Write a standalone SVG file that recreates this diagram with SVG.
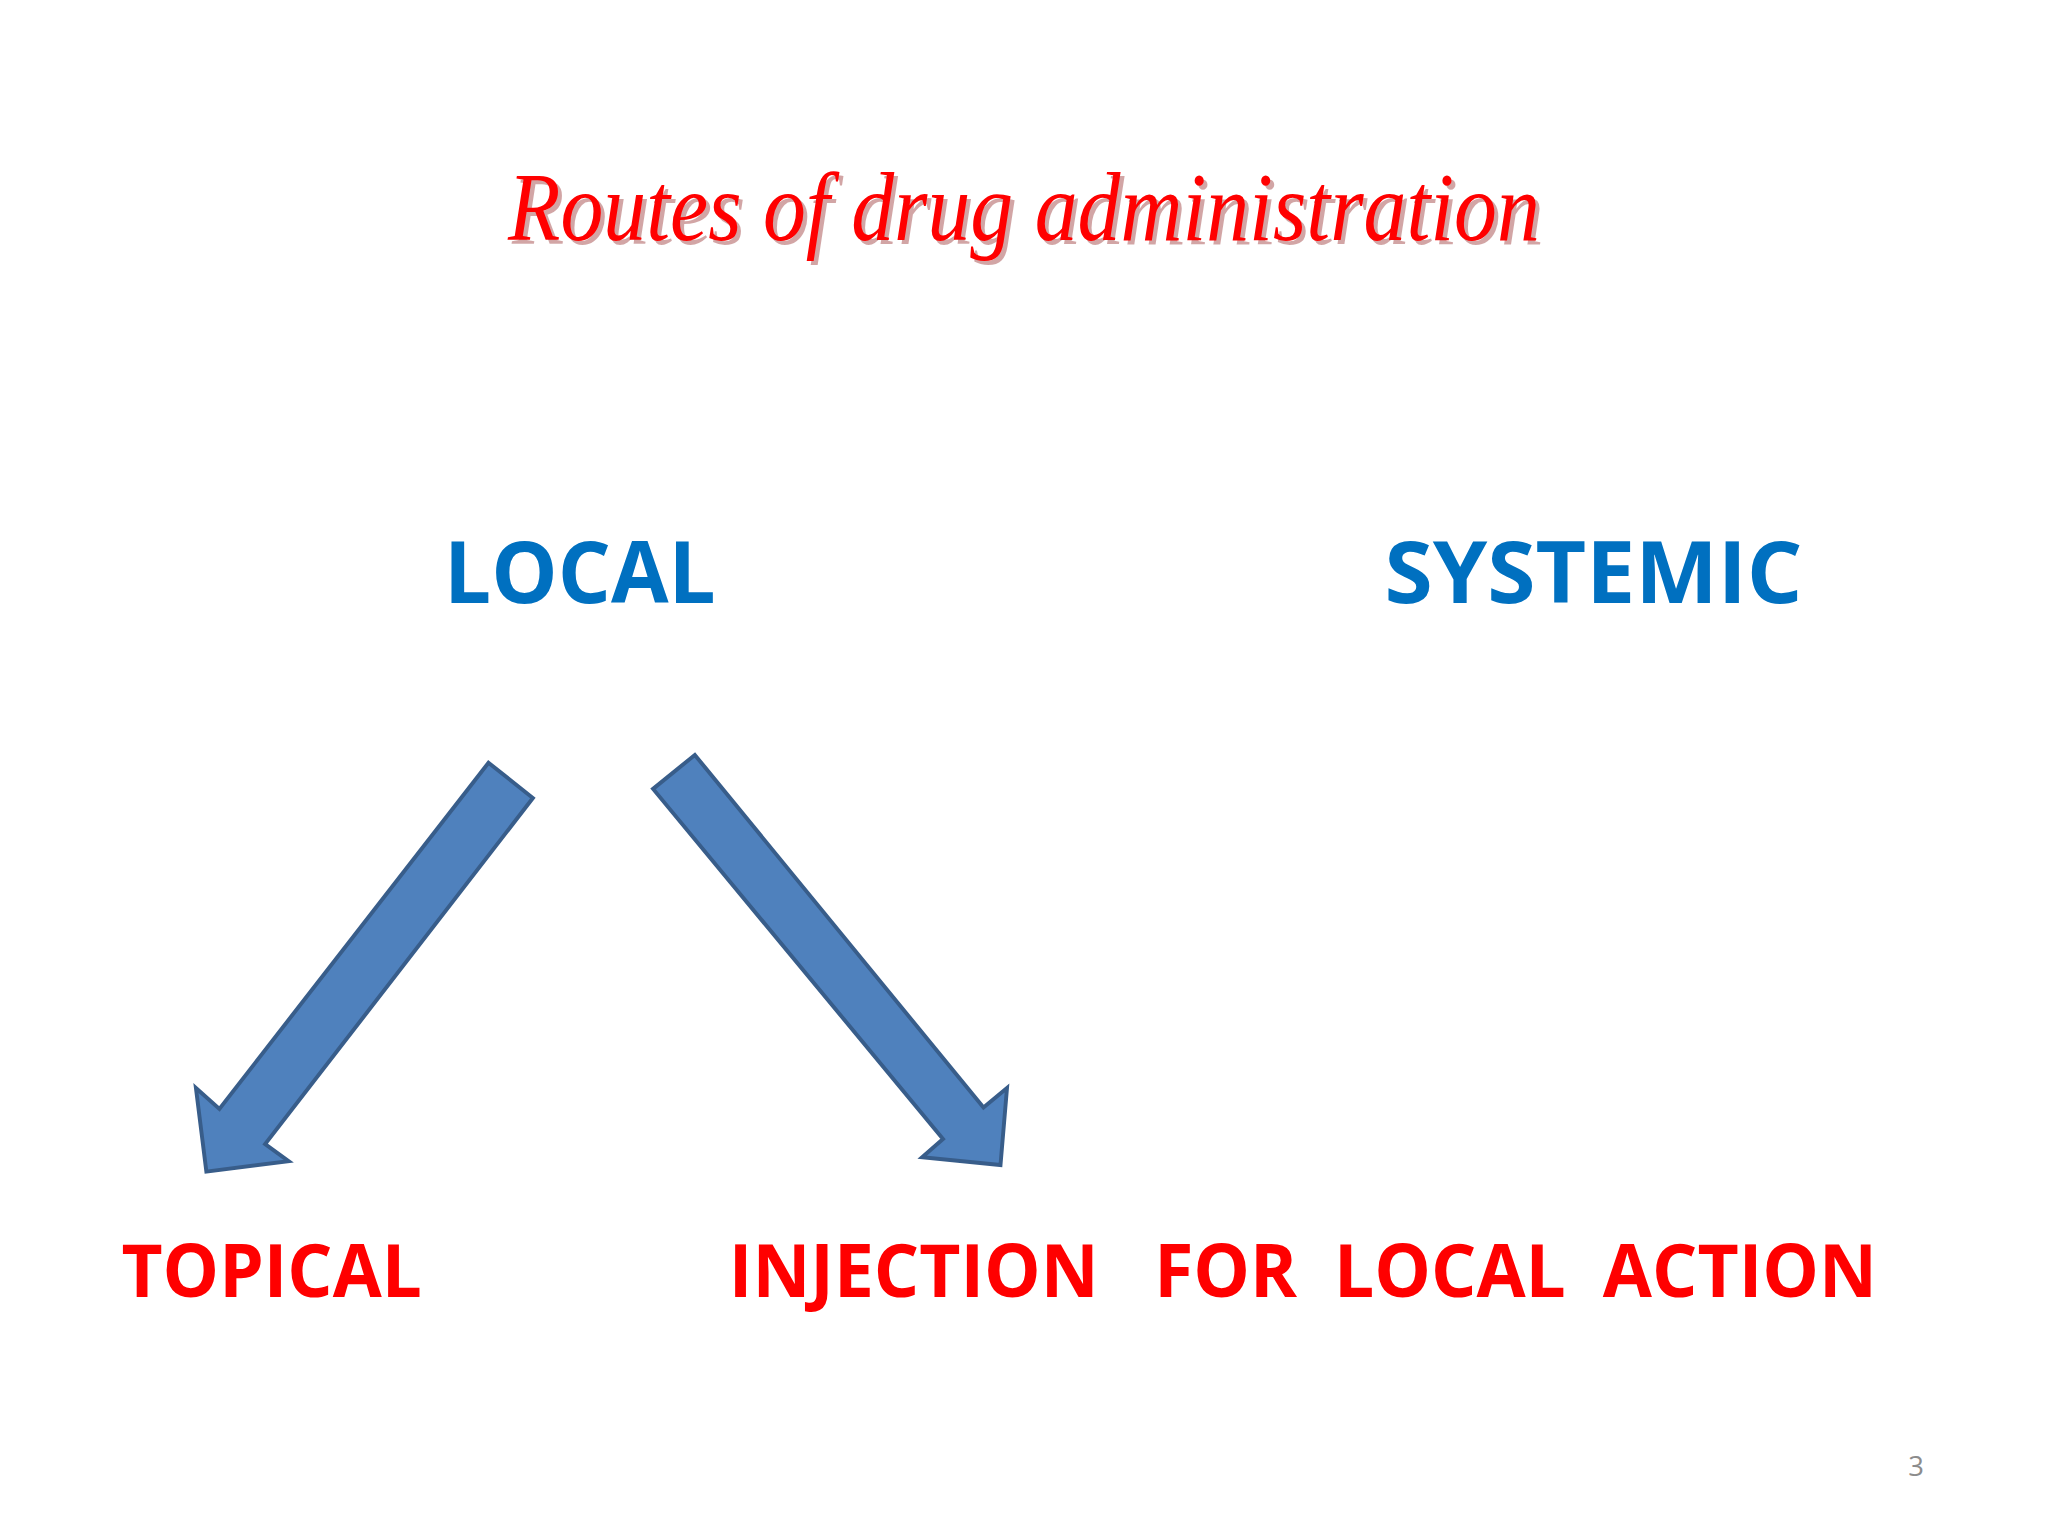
<svg xmlns="http://www.w3.org/2000/svg" width="2048" height="1536" viewBox="0 0 2048 1536">
<style>
.t{font-family:"Open Sans","Liberation Sans",sans-serif;font-weight:bold}
.blue{fill:#0070C0}
.red{fill:#FF0000}
.arrow{fill:#4F81BD;stroke:#385D8A;stroke-width:3}
</style>
<rect width="2048" height="1536" fill="#ffffff"/>
<g transform="scale(1.3061)">
<g id="title"><text x="787" y="187" text-anchor="middle" font-family="'Liberation Serif',serif" font-style="italic" font-size="74" fill="#7f0000" opacity="0.35" textLength="790" lengthAdjust="spacingAndGlyphs">Routes of drug administration</text>
<text x="784" y="184" text-anchor="middle" font-family="'Liberation Serif',serif" font-style="italic" font-size="74" class="red" textLength="790" lengthAdjust="spacingAndGlyphs">Routes of drug administration</text></g>
<g id="local"><text class="t blue" x="340" y="462" font-size="66" textLength="208" lengthAdjust="spacingAndGlyphs">LOCAL</text></g>
<g id="systemic"><text class="t blue" x="1060" y="462" font-size="66" textLength="320" lengthAdjust="spacingAndGlyphs">SYSTEMIC</text></g>
<g id="topical"><text class="t red" x="93" y="993" font-size="56" textLength="230" lengthAdjust="spacingAndGlyphs">TOPICAL</text></g>
<g id="injection"><text class="t red" x="558" y="993" font-size="56" textLength="879" lengthAdjust="spacingAndGlyphs" xml:space="preserve">INJECTION   FOR  LOCAL  ACTION</text></g>
<g id="connectors">
<polygon class="arrow" points="374,584 408,611 203,876 221,889 158,897 150,833 168,849"/>
<polygon class="arrow" points="532,578 500,604 722,872 706,886 766,892 771,833 753,848"/>
</g>
<text x="1467" y="1130" text-anchor="middle" font-family="'Open Sans',sans-serif" font-size="21" fill="#8c8c8c">3</text>
</g>
</svg>
